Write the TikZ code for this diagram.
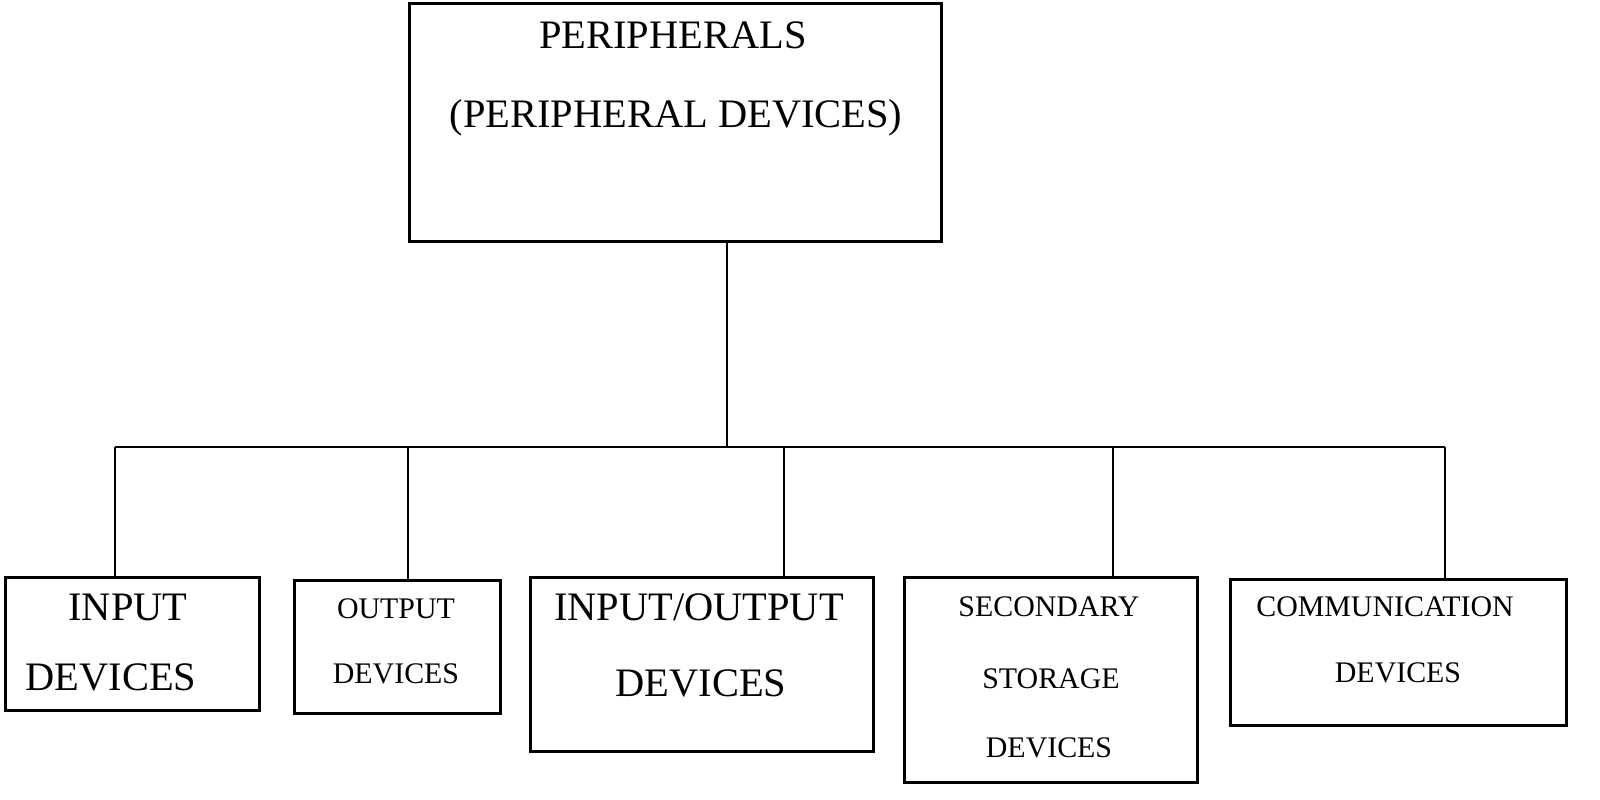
\documentclass[tikz,border=0pt]{standalone}
\usepackage{fontspec}
\setmainfont{Liberation Serif}
\tikzset{
    box/.style={draw, thick, anchor=north west, inner sep=0pt},
    big/.style={font=\fontsize{11.5}{13}\selectfont},
    small/.style={font=\fontsize{8.5}{10}\selectfont},
}
\begin{document}
\begin{tikzpicture}[x=0.01cm, y=-0.01cm]

            % the frame
            \useasboundingbox (0, 0) rectangle (1600, 800);

            % the root
            \node[box, minimum width=5.32cm, minimum height=2.38cm] (root) at (408, 2) {};
            \node[big] (rootA) at (673, 35) {PERIPHERALS};
            \node[big] (rootB) at (676, 118) {(PERIPHERAL DEVICES)};

            % the children
            \node[box, minimum width=2.54cm, minimum height=1.33cm] (inp) at (4, 576) {};
            \node[box, minimum width=2.06cm, minimum height=1.33cm] (outp) at (293, 579) {};
            \node[box, minimum width=3.43cm, minimum height=1.74cm] (io) at (529, 576) {};
            \node[box, minimum width=2.93cm, minimum height=2.05cm] (sec) at (903, 576) {};
            \node[box, minimum width=3.36cm, minimum height=1.46cm] (com) at (1229, 578) {};

            % labels
            \node[big] (inpA) at (128, 607) {INPUT};
            \node[big] (inpB) at (111, 677) {DEVICES};
            \node[small] (outpA) at (396, 609) {OUTPUT};
            \node[small] (outpB) at (396, 674) {DEVICES};
            \node[big] (ioA) at (699, 607) {INPUT/OUTPUT};
            \node[big] (ioB) at (701, 683) {DEVICES};
            \node[small] (secA) at (1049, 607) {SECONDARY};
            \node[small] (secB) at (1051, 679) {STORAGE};
            \node[small] (secC) at (1049, 748) {DEVICES};
            \node[small] (comA) at (1385, 607) {COMMUNICATION};
            \node[small] (comB) at (1398, 673) {DEVICES};

            % the bus
            \coordinate (hub) at (727, 447);
            \coordinate (busL) at (115, 447);
            \coordinate (busR) at (1445, 447);
            \draw[thick] (root.south -| hub) -- (hub);
            \draw[thick] (busL) -- (busR);
            \foreach \x/\n in {115/inp, 408/outp, 784/io, 1113/sec, 1445/com} {
                \draw[thick] (\x, 447) -- (\n.north -| {(\x, 0)});
            };
        \end{tikzpicture}
\end{document}
